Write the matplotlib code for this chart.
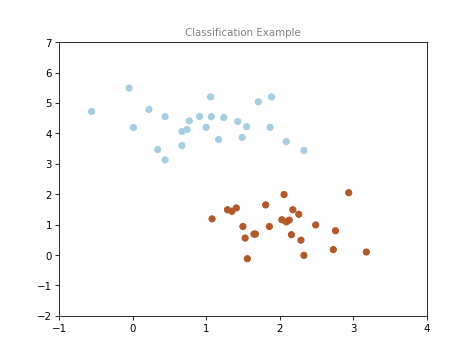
import matplotlib
matplotlib.use('Agg')
import matplotlib.pyplot as plt
import numpy as np

# Clase 0 (azul claro)
x0 = [-0.56, -0.05, 0.01, 0.22, 0.44, 0.34, 0.44, 0.67, 0.67, 0.74, 0.77, 0.91, 1.00,
      1.06, 1.07, 1.17, 1.24, 1.43, 1.49, 1.55, 1.71, 1.89, 1.87, 2.09, 2.33]
y0 = [4.72, 5.49, 4.19, 4.79, 4.55, 3.47, 3.13, 4.06, 3.60, 4.13, 4.41, 4.56, 4.20,
      5.20, 4.55, 3.80, 4.52, 4.39, 3.87, 4.22, 5.04, 5.20, 4.20, 3.73, 3.44]

# Clase 1 (marron)
x1 = [1.08, 1.29, 1.35, 1.41, 1.50, 1.53, 1.56, 1.65, 1.67, 1.81, 1.86, 2.06, 2.03,
      2.09, 2.13, 2.18, 2.16, 2.26, 2.29, 2.33, 2.49, 2.76, 2.73, 2.94, 3.18]
y1 = [1.19, 1.49, 1.44, 1.55, 0.94, 0.56, -0.12, 0.69, 0.69, 1.65, 0.94, 1.99, 1.16,
      1.09, 1.15, 1.49, 0.67, 1.34, 0.49, -0.01, 0.99, 0.80, 0.18, 2.05, 0.10]

x = np.array(x0 + x1)
y = np.array(y0 + y1)
labels = np.array([0] * len(x0) + [1] * len(x1))

fig = plt.figure(figsize=(6.4, 4.8), dpi=74.0625)
plt.scatter(x, y, c=labels, cmap='Paired')
plt.title('Classification Example', color='grey', fontsize=10)
plt.xlim(-1, 4)
plt.ylim(-2, 7)
plt.savefig('out.png')
